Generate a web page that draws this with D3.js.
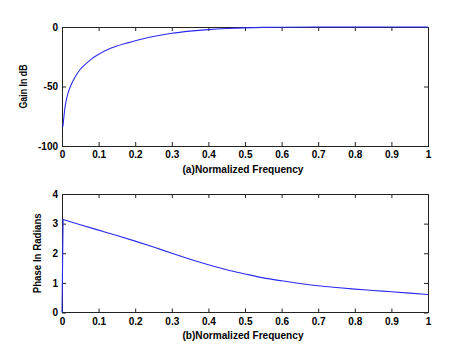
<!DOCTYPE html>
<html><head><meta charset="utf-8">
<script src="https://cdn.jsdelivr.net/npm/d3@7"></script>
<style>
body{margin:0;background:#fff;}
svg{display:block;}
text{font-family:"Liberation Sans",Arial,sans-serif;font-weight:bold;fill:#000;}
</style></head>
<body>
<svg id="c" width="474" height="355"></svg>
<script>
const xTicks = [0,0.1,0.2,0.3,0.4,0.5,0.6,0.7,0.8,0.9,1];
const xTickLabels = ["0","0.1","0.2","0.3","0.4","0.5","0.6","0.7","0.8","0.9","1"];
const gainTicks = [0,-50,-100];
const phaseTicks = [0,1,2,3,4];

const gainFreq = [0.002,0.003,0.005,0.008,0.012,0.017,0.025,0.035,0.05,0.065,0.08,0.1,0.125,0.15,0.175,0.2,0.25,0.3,0.35,0.4,0.45,0.5,0.55,0.6,0.7,0.8,0.9,1.0];
const gainDb   = [-84,-82,-76,-68,-61,-55,-48.5,-42.5,-35.5,-31,-27,-23,-19,-16,-13.7,-11.5,-8,-5.3,-3.5,-2.2,-1.3,-0.7,-0.35,-0.15,-0.04,-0.01,0,0];

const phaseFreq = [0,0.003,0.05,0.1,0.15,0.2,0.25,0.3,0.35,0.4,0.45,0.5,0.55,0.6,0.65,0.7,0.75,0.8,0.85,0.9,0.95,1.0];
const phaseRad  = [0,3.14,2.96,2.78,2.6,2.41,2.21,2.0,1.8,1.61,1.44,1.3,1.17,1.07,0.98,0.905,0.845,0.79,0.745,0.70,0.655,0.61];

const svg = d3.select("#c");
const L = 62, R = 428;
const x = d3.scaleLinear().domain([0,1]).range([L,R]);

function panel(top, bottom, yDomain, yTicks, xs, ys, xlabel, ylabel, ylabX, xlabY, stepStart){
  const y = d3.scaleLinear().domain(yDomain).range([bottom, top]);
  const g = svg.append("g");
  g.append("rect").attr("x",L).attr("y",top).attr("width",R-L).attr("height",bottom-top)
    .attr("fill","none").attr("stroke","#222").attr("stroke-width",1).attr("shape-rendering","crispEdges");
  const xb = d3.axisBottom(x).tickValues(xTicks).tickFormat((d,i)=>xTickLabels[i]).tickSizeInner(-4).tickSizeOuter(0).tickPadding(8);
  const gx = g.append("g").attr("transform",`translate(0,${bottom})`).call(xb);
  gx.select(".domain").remove();
  gx.selectAll("line").attr("stroke","#222");
  gx.selectAll("text").attr("font-size","10px").attr("dy","0.71em").attr("y",5);
  const xt = d3.axisTop(x).tickValues(xTicks).tickFormat("").tickSizeInner(-4).tickSizeOuter(0);
  const gxt = g.append("g").attr("transform",`translate(0,${top})`).call(xt);
  gxt.select(".domain").remove(); gxt.selectAll("line").attr("stroke","#222");
  const yl = d3.axisLeft(y).tickValues(yTicks).tickSizeInner(-4).tickSizeOuter(0).tickPadding(8);
  const gy = g.append("g").attr("transform",`translate(${L},0)`).call(yl);
  gy.select(".domain").remove(); gy.selectAll("line").attr("stroke","#222");
  gy.selectAll("text").attr("font-size","10px").attr("x",-4).text(d=>String(d));
  const yr = d3.axisRight(y).tickValues(yTicks).tickFormat("").tickSizeInner(-4).tickSizeOuter(0);
  const gyr = g.append("g").attr("transform",`translate(${R},0)`).call(yr);
  gyr.select(".domain").remove(); gyr.selectAll("line").attr("stroke","#222");
  const data = xs.map((d,i)=>[d, ys[i]]);
  const line = d3.line().x(d=>x(d[0])).y(d=>y(d[1])).curve(d3.curveMonotoneX);
  let dstr;
  if (stepStart) {
    const head = d3.line().x(d=>x(d[0])).y(d=>y(d[1]))(data.slice(0,2));
    dstr = head + line(data.slice(1)).replace(/^M/, "L");
  } else {
    dstr = line(data);
  }
  g.append("path").attr("d", dstr)
    .attr("fill","none").attr("stroke","#2b2bf0").attr("stroke-width",1.1);
  g.append("text").attr("x",243).attr("y",xlabY).attr("text-anchor","middle")
    .attr("font-size","10px").attr("textLength",121).attr("lengthAdjust","spacingAndGlyphs").text(xlabel);
  const cy = (top+bottom)/2;
  g.append("text").attr("transform",`translate(${ylabX},${cy}) rotate(-90)`).attr("text-anchor","middle")
    .attr("font-size","10px").attr("font-weight","normal").attr("dy","0.35em")
    .attr("textLength", ylabel.length>12?80:44).attr("lengthAdjust","spacingAndGlyphs").text(ylabel);
}

panel(27, 146, [-100,0], gainTicks, gainFreq, gainDb, "(a)Normalized Frequency", "Gain In dB", 23, 173, false);
panel(194, 312.5, [0,4], phaseTicks, phaseFreq, phaseRad, "(b)Normalized Frequency", "Phase In Radians", 37, 339, true);
</script>
</body></html>
